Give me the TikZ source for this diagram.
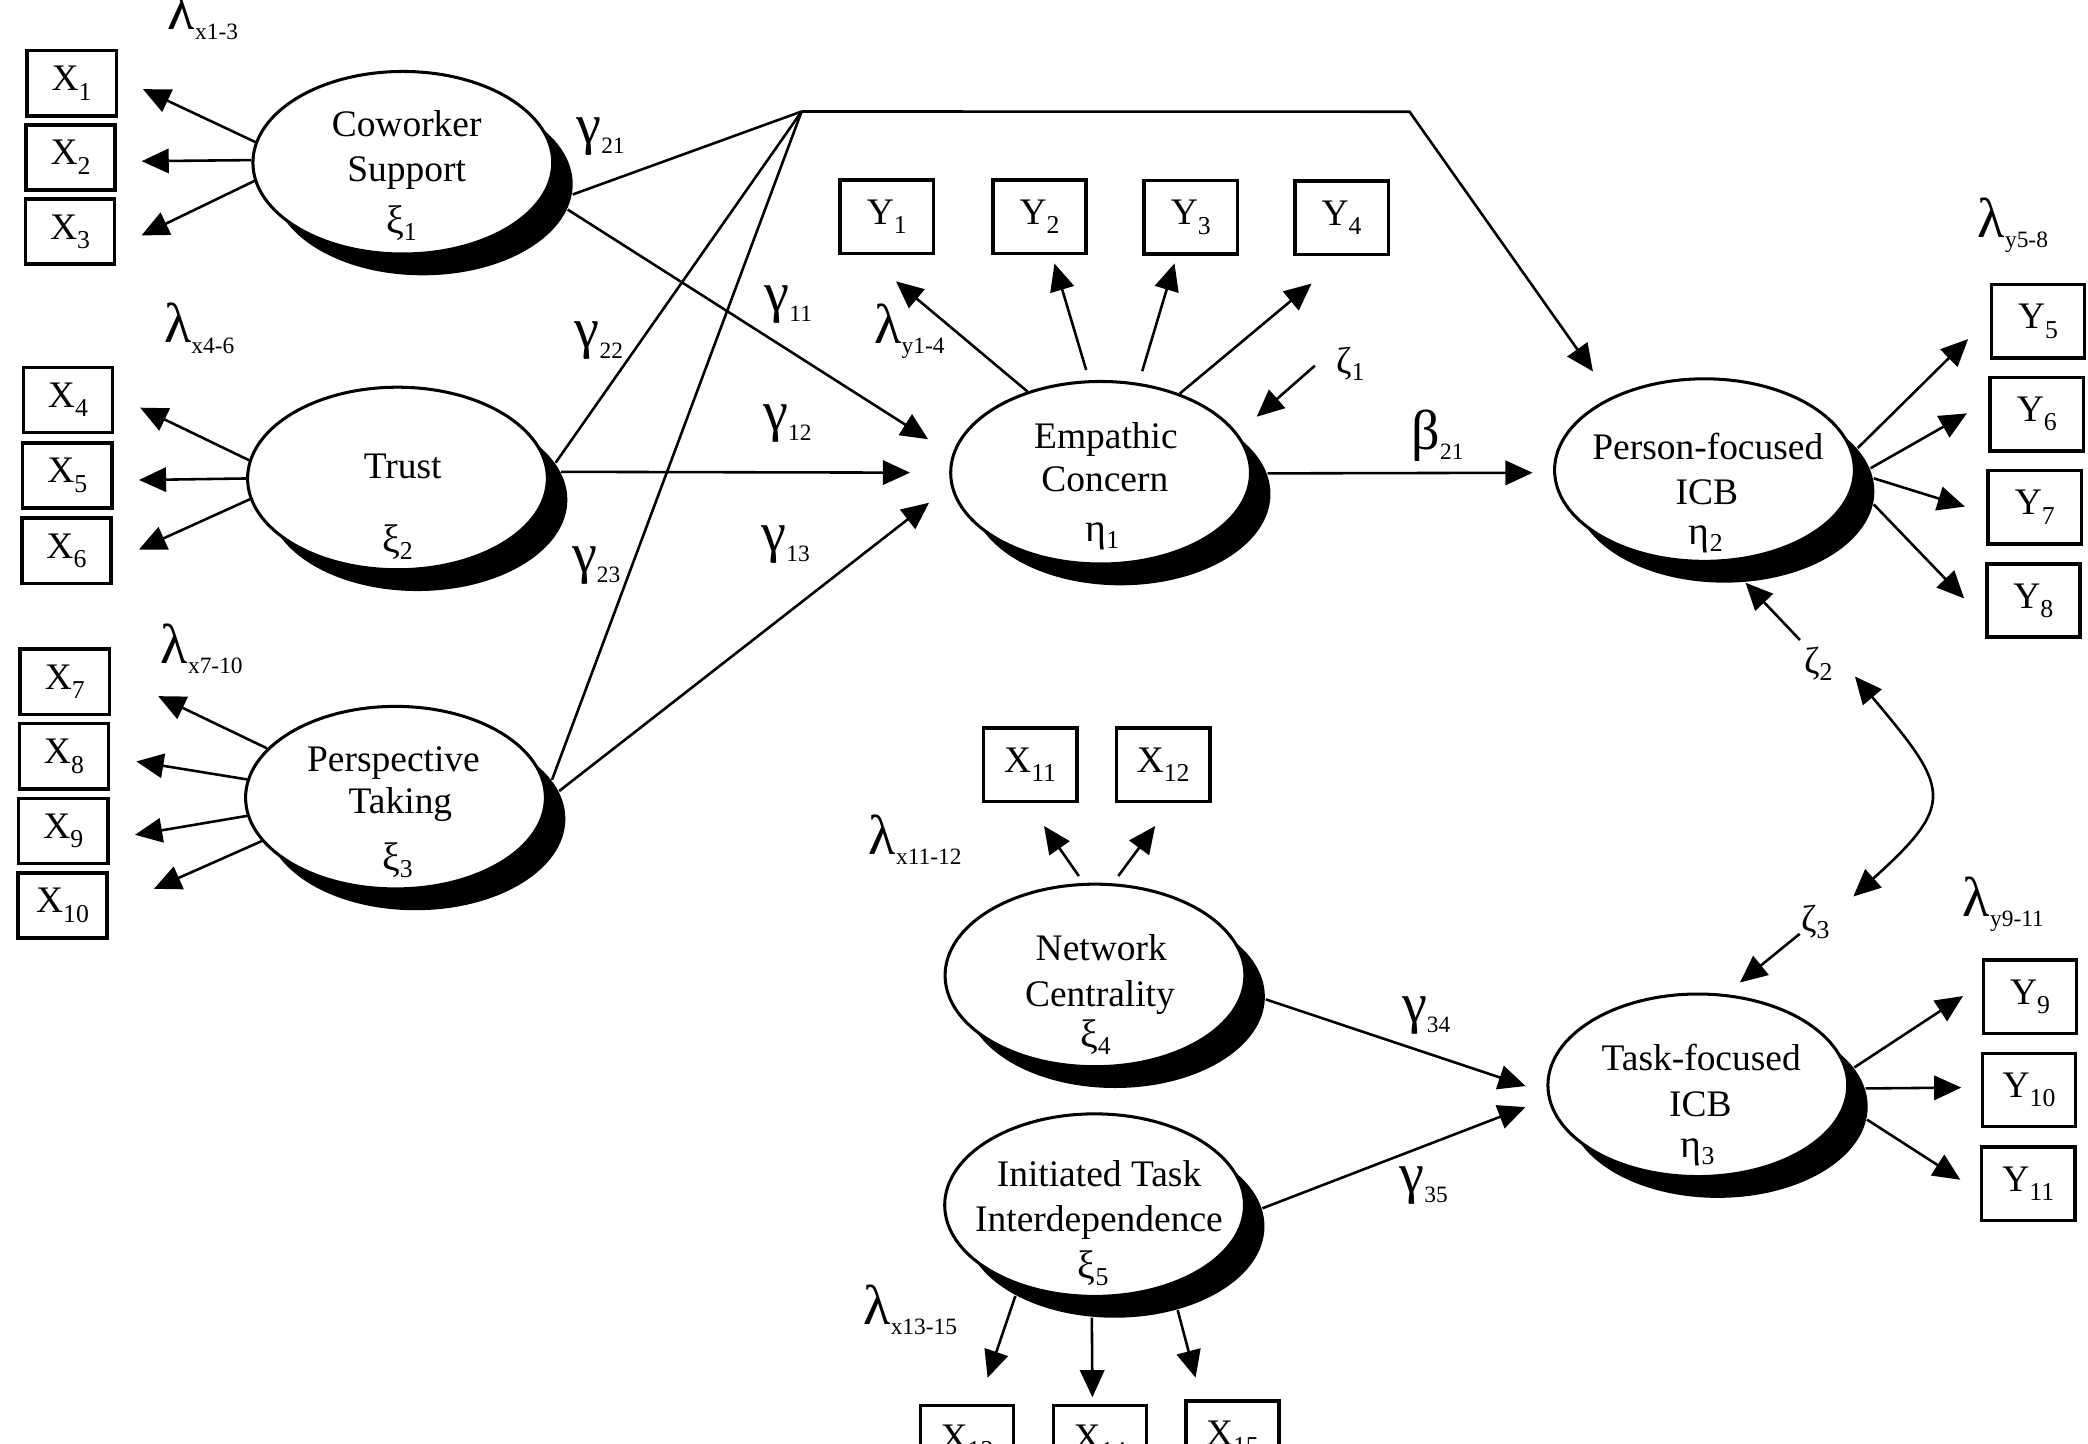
\documentclass[tikz,border=0pt]{standalone}
\usepackage{fontspec}
\setmainfont{Liberation Serif}
\usetikzlibrary{arrows.meta,shapes.geometric}
\newcommand{\sub}[1]{\raisebox{-2pt}{\fontsize{5.5}{6}\selectfont#1}}
\newcommand{\prm}[2]{{\fontsize{12}{13}\selectfont#1}\raisebox{-2.2pt}{\fontsize{5}{6}\selectfont#2}}
\newcommand{\grk}[2]{{\fontsize{8.5}{9}\selectfont#1}\raisebox{-1.5pt}{\fontsize{5.5}{6}\selectfont#2}}
\newcommand{\zet}[1]{{\fontsize{8}{9}\selectfont ζ}\raisebox{-1.5pt}{\fontsize{5.5}{6}\selectfont#1}}
\begin{document}
\begin{tikzpicture}[x=0.01cm,y=-0.01cm,
  font=\fontsize{8}{9.6}\selectfont,
  obsS/.style={draw,line width=0.75pt,minimum width=0.67cm,minimum height=0.49cm,inner sep=0pt},
  obsL/.style={draw,line width=0.75pt,minimum width=0.70cm,minimum height=0.55cm,inner sep=0pt},
  lat/.style={ellipse,draw,fill=white,line width=0.65pt,minimum width=2.25cm,minimum height=1.37cm,inner sep=0pt},
  shd/.style={ellipse,fill=black,minimum width=2.25cm,minimum height=1.37cm,inner sep=0pt},
  txt/.style={inner sep=0pt,anchor=base},
  lbl/.style={inner sep=0pt},
  ln/.style={line width=0.55pt},
  arr/.style={line width=0.55pt,-{Triangle[length=5.8pt,width=5.2pt]}},
  dbl/.style={line width=0.55pt,{Triangle[length=5.8pt,width=5.2pt]}-{Triangle[length=5.8pt,width=5.2pt]}}
]
\path[use as bounding box,fill=white] (0,0) rectangle (1568,1084);
\clip (0,0) rectangle (1568,1084);

% ---------- latent variables (shadow + ellipse) ----------
\node[shd] (cs-s) at (317.5,138.2) {};
\node[lat] (cs) at (302.5,122.2) {};
\node[shd] (tr-s) at (313.5,375.3) {};
\node[lat] (tr) at (298.5,359.3) {};
\node[shd] (pt-s) at (312,615) {};
\node[lat] (pt) at (297,599) {};
\node[shd] (ec-s) at (841.5,371) {};
\node[lat] (ec) at (826.5,355) {};
\node[shd] (pf-s) at (1295,369) {};
\node[lat] (pf) at (1280,353) {};
\node[shd] (tf-s) at (1290,831) {};
\node[lat] (tf) at (1275,815) {};
\node[shd] (nc-s) at (837.3,748.5) {};
\node[lat] (nc) at (822.3,732.5) {};
\node[shd] (it-s) at (837,921) {};
\node[lat] (it) at (822,905) {};

% ---------- texts in ellipses ----------
\node[txt] (cs-t1) at (305.4,102.5) {Coworker};
\node[txt] (cs-t2) at (305.4,136.6) {Support};
\node[lbl] (cs-g) at (301.4,167.8) {\grk{ξ}{1}};
\node[txt] (tr-t1) at (302.4,359.3) {Trust};
\node[lbl] (tr-g) at (298.5,406.8) {\grk{ξ}{2}};
\node[txt] (pt-t1) at (295.5,579.5) {Perspective};
\node[txt] (pt-t2) at (300.7,610.8) {Taking};
\node[lbl] (pt-g) at (298.4,645.8) {\grk{ξ}{3}};
\node[txt] (ec-t1) at (830.5,336.7) {Empathic};
\node[txt] (ec-t2) at (829.7,369.2) {Concern};
\node[lbl] (ec-g) at (827.8,403) {\grk{η}{1}};
\node[txt] (pf-t1) at (1282.5,345.4) {Person-focused};
\node[txt] (pf-t2) at (1281.8,379.2) {ICB};
\node[lbl] (pf-g) at (1281,404.8) {\grk{η}{2}};
\node[txt] (tf-t1) at (1277.5,803.9) {Task-focused};
\node[txt] (tf-t2) at (1276.9,838.5) {ICB};
\node[lbl] (tf-g) at (1274.8,865.7) {\grk{η}{3}};
\node[txt] (nc-t1) at (827,721) {Network};
\node[txt] (nc-t2) at (826,755.5) {Centrality};
\node[lbl] (nc-g) at (822.6,778.8) {\grk{ξ}{4}};
\node[txt] (it-t1) at (825.3,891) {Initiated Task};
\node[txt] (it-t2) at (825.3,925) {Interdependence};
\node[lbl] (it-g) at (820.9,952.3) {\grk{ξ}{5}};

% ---------- observed variables ----------
\node[obsS] (X1) at (53.8,62.4) {X\sub{1}};
\node[obsS] (X2) at (53,118.2) {X\sub{2}};
\node[obsS] (X3) at (52.6,173.9) {X\sub{3}};
\node[obsS] (X4) at (51,300.4) {X\sub{4}};
\node[obsS] (X5) at (50.5,357.1) {X\sub{5}};
\node[obsS] (X6) at (49.9,413.5) {X\sub{6}};
\node[obsS] (X7) at (48.7,512) {X\sub{7}};
\node[obsS] (X8) at (48,568) {X\sub{8}};
\node[obsS] (X9) at (47.5,624) {X\sub{9}};
\node[obsS] (X10) at (47,680) {X\sub{10}};
\node[obsL] (Y1) at (666,162.7) {Y\sub{1}};
\node[obsL] (Y2) at (780.6,162.7) {Y\sub{2}};
\node[obsL] (Y3) at (894.2,163.2) {Y\sub{3}};
\node[obsL] (Y4) at (1007.5,163.6) {Y\sub{4}};
\node[obsL] (Y5) at (1530.5,241.2) {Y\sub{5}};
\node[obsL] (Y6) at (1529.5,311) {Y\sub{6}};
\node[obsL] (Y7) at (1528,381) {Y\sub{7}};
\node[obsL] (Y8) at (1527,451) {Y\sub{8}};
\node[obsL] (Y9) at (1524.5,748.5) {Y\sub{9}};
\node[obsL] (Y10) at (1523.7,818.5) {Y\sub{10}};
\node[obsL] (Y11) at (1523.2,889) {Y\sub{11}};
\node[obsL] (X11) at (773.6,574.3) {X\sub{11}};
\node[obsL] (X12) at (873.5,574.3) {X\sub{12}};
\node[obsL] (X13) at (726.2,1083) {X\sub{13}};
\node[obsL] (X14) at (826,1083) {X\sub{14}};
\node[obsL] (X15) at (925.5,1079.6) {X\sub{15}};

% ---------- parameter labels ----------
\node[lbl] (lx13) at (152.4,10.9) {\prm{λ}{x1-3}};
\node[lbl] (lx46) at (149.6,246.5) {\prm{λ}{x4-6}};
\node[lbl] (lx710) at (151.5,487) {\prm{λ}{x7-10}};
\node[lbl] (g21) at (451,102.4) {\prm{γ}{21}};
\node[lbl] (g22) at (449.7,256) {\prm{γ}{22}};
\node[lbl] (g23) at (447.7,424.6) {\prm{γ}{23}};
\node[lbl] (g11) at (592,228.4) {\prm{γ}{11}};
\node[lbl] (g12) at (591.4,318) {\prm{γ}{12}};
\node[lbl] (g13) at (590,408.7) {\prm{γ}{13}};
\node[lbl] (ly14) at (683,249) {\prm{λ}{y1-4}};
\node[lbl] (z1) at (1014,273.5) {\zet{1}};
\node[lbl] (b21) at (1079.5,327.3) {\prm{β}{21}};
\node[lbl] (ly58) at (1511.6,169) {\prm{λ}{y5-8}};
\node[lbl] (z2) at (1365.5,498.8) {\zet{2}};
\node[lbl] (z3) at (1363.3,692) {\zet{3}};
\node[lbl] (ly911) at (1504.5,679) {\prm{λ}{y9-11}};
\node[lbl] (lx1112) at (687.3,630.8) {\prm{λ}{x11-12}};
\node[lbl] (g34) at (1071,762.7) {\prm{γ}{34}};
\node[lbl] (g35) at (1069.2,890) {\prm{γ}{35}};
\node[lbl] (lx1315) at (683.6,983.7) {\prm{λ}{x13-15}};

% ---------- free coordinates ----------
\coordinate (J) at (602,83.7);
\coordinate (K) at (1058.5,83.9);
\coordinate (z1s) at (987.4,274.6);
\coordinate (z2s) at (1351.7,480.6);
\coordinate (z3s) at (1351.5,701.3);
\coordinate (c2a) at (1393,508);
\coordinate (c2b) at (1391.8,673.2);

% ---------- loadings on X1-X10 ----------
\draw[arr,shorten >=2.07mm] (cs.172.3) -- (X1.7.2);
\draw[arr,shorten >=1.85mm] (cs.179.4) -- (X2.-5.1);
\draw[arr,shorten >=2.09mm] (cs.187) -- (X3.-19.4);
\draw[arr,shorten >=2.16mm] (tr.173.2) -- (X4.6.3);
\draw[arr,shorten >=1.9mm] (tr.180.8) -- (X5.-6.8);
\draw[arr,shorten >=2.15mm] (tr.188) -- (X6.-13.4);
\draw[arr,shorten >=3.91mm] (pt.159.9) -- (X7.10.7);
\draw[arr,shorten >=1.98mm] (pt.173.3) -- (X8.-1.4);
\draw[arr,shorten >=1.93mm] (pt.187) -- (X9.-10.5);
\draw[arr,shorten >=3.69mm] (pt.198.1) -- (X10.-4.9);

% ---------- Empathic Concern ----------
\draw[arr,shorten >=3.07mm] (ec.132.5) -- (Y1.240.4);
\draw[arr,shorten <=0.8mm,shorten >=0.66mm] (ec.97.8) -- (Y2.-72.6);
\draw[arr,shorten <=0.92mm,shorten >=0.6mm] (ec.67) -- (Y3.-110.1);
\draw[arr,shorten >=3.2mm] (ec.45.1) -- (Y4.-86.8);
\draw[arr,shorten >=1.9mm] (z1s) -- (ec.16.3);
\draw[arr,shorten >=2.13mm] (cs-s.-10.2) -- (ec.173);
\draw[arr,shorten >=2.94mm] (tr-s.11.4) -- (ec.180);
\draw[arr,shorten >=2.06mm] (pt-s.11.4) -- (ec.185.6);

% ---------- gamma 2x paths ----------
\draw[ln] (cs-s.-4.8) -- (J);
\draw[ln] (tr-s.15.9) -- (J);
\draw[ln] (pt-s.16.3) -- (J);
\draw[arr,shorten >=2.35mm] (J) -- (K) -- (pf.142.6);

% ---------- Person-focused ICB ----------
\draw[arr,shorten >=1.54mm] (ec-s.8.1) -- (pf.181.3);
\draw[arr,shorten >=2.27mm] (pf-s.18) -- (Y5.176.9);
\draw[arr,shorten >=1.85mm] (pf-s.9.8) -- (Y6.165);
\draw[arr,shorten >=1.69mm] (pf-s.5.6) -- (Y7.187.7);
\draw[arr,shorten >=2.26mm] (pf-s.-5.9) -- (Y8.202.2);
\draw[arr] (z2s) -- (pf-s.-77.9);
\draw[dbl] (c2a) .. controls (1463.7,592.3) and (1469.8,602.9) .. (c2b);

% ---------- Task-focused ICB ----------
\draw[arr,shorten >=1.38mm] (z3s) -- (tf.73);
\draw[arr,shorten >=1.68mm] (tf-s.16.8) -- (Y9.165.9);
\draw[arr,shorten >=1.45mm] (tf-s.7.1) -- (Y10.177.6);
\draw[arr,shorten >=1.75mm] (tf-s.-5.6) -- (Y11.190.6);
\draw[arr,shorten >=1.69mm] (nc-s.-1.3) -- (tf.183.2);
\draw[arr,shorten >=1.81mm] (it-s.7.2) -- (tf.185.5);

% ---------- Network Centrality / Task Interdependence ----------
\draw[arr,shorten <=0.63mm,shorten >=2.09mm] (nc.97.4) -- (X11.-93.8);
\draw[arr,shorten <=0.68mm,shorten >=2.13mm] (nc.79.5) -- (X12.-77.6);
\draw[arr,shorten >=2.06mm] (it-s.215.5) -- (X13.73);
\draw[arr,shorten >=0.49mm] (it-s.-104) -- (X14.101.3);
\draw[arr,shorten >=1.68mm] (it-s.-53.7) -- (X15.129.4);
\end{tikzpicture}
\end{document}
